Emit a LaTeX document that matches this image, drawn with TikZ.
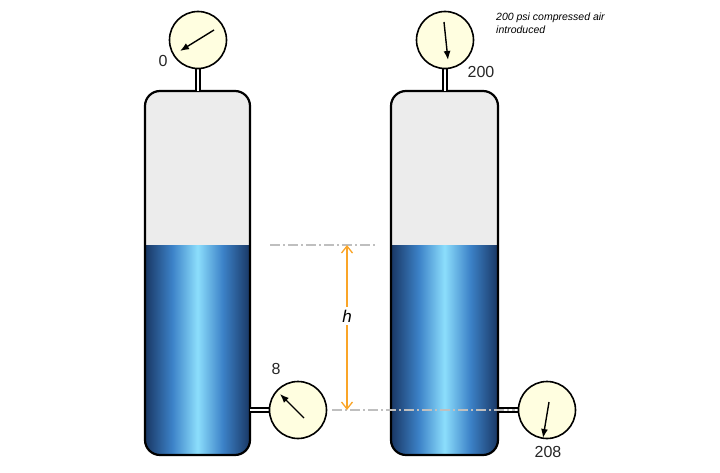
\documentclass[tikz,border=0pt]{standalone}
\usepackage{fontspec}
\usetikzlibrary{arrows.meta}
\setmainfont{Liberation Sans}
\definecolor{ledge}{RGB}{25,55,100}
\definecolor{lmid}{RGB}{60,130,200}
\definecolor{lcen}{RGB}{140,222,252}
\pgfdeclarehorizontalshading{liq}{100bp}{color(0bp)=(ledge);color(25bp)=(ledge);color(38bp)=(lmid);color(50bp)=(lcen);color(62bp)=(lmid);color(75bp)=(ledge);color(100bp)=(ledge)}
\definecolor{gface}{RGB}{255,254,224}
\definecolor{tankgray}{RGB}{236,236,236}
\definecolor{orng}{RGB}{250,165,40}
\tikzset{gauge/.style={circle,draw,line width=1.6pt,fill=gface,minimum size=57pt,inner sep=0pt},
needle/.style={-{Latex[length=9pt,width=7pt]},line width=1.4pt},
lbl/.style={font=\fontsize{16}{16}\selectfont,text=black!85},
pipe/.style={line width=6pt,draw=black,postaction={draw=white,line width=2.5pt}},
refl/.style={draw=black!25,line width=1.2pt,dash pattern=on 10pt off 3pt on 2pt off 3pt}}
\begin{document}
\begin{tikzpicture}[x=1pt,y=-1pt]
\useasboundingbox (0,0) rectangle (720,473);
% tanks
\foreach \xa/\xb/\nm in {145/250/L,391/498/R}{
 \begin{scope}
 \clip[rounded corners=15pt] (\xa,91) rectangle (\xb,455);
 \fill[tankgray] (\xa,91) rectangle (\xb,245);
 \shade[shading=liq] (\xa,245) rectangle (\xb,455);
 \end{scope}
 \draw[line width=2.2pt,rounded corners=15pt] (\xa,91) rectangle (\xb,455);
}
% pipes
\draw[pipe] (198,68) -- (198,91);
\draw[pipe] (445,68) -- (445,91);
\draw[pipe] (250,410) -- (270,410);
\draw[pipe] (498,410) -- (519,410);
% gauges
\node[gauge] (g1) at (198,40) {};
\node[gauge] (g2) at (445,40) {};
\node[gauge] (g3) at (298,410) {};
\node[gauge] (g4) at (547,410) {};
\draw[needle] (214,30) -- (180,51);
\draw[needle] (444,22) -- (448,60);
\draw[needle] (304,418) -- (280,394);
\draw[needle] (549,402) -- (543,438);
% reference lines
\coordinate (a1) at (270,245); \coordinate (a2) at (375,245);
\coordinate (b1) at (332,410); \coordinate (b2) at (515,410);
\draw[refl] (a1) -- (a2);
\draw[refl] (b1) -- (b2);
\coordinate (h1) at (347,245); \coordinate (h2) at (347,410);
\draw[orng,line width=1.3pt,<->,>={Straight Barb[length=7pt,width=11pt]}] (h1) -- node[pos=0.43,fill=white,inner sep=3pt,font=\itshape\fontsize{17}{17}\selectfont,text=black]{h} (h2);
% labels
\node[lbl] (l0) at (163,61) {0};
\node[lbl] (l200) at (481,72) {200};
\node[lbl] (l8) at (276,369) {8};
\node[lbl] (l208) at (548,452) {208};
\node[anchor=north west,align=left,font=\itshape\fontsize{10.5}{13}\selectfont,inner sep=0pt] (note) at (496,13) {200 psi compressed air\\introduced};
\end{tikzpicture}
\end{document}
